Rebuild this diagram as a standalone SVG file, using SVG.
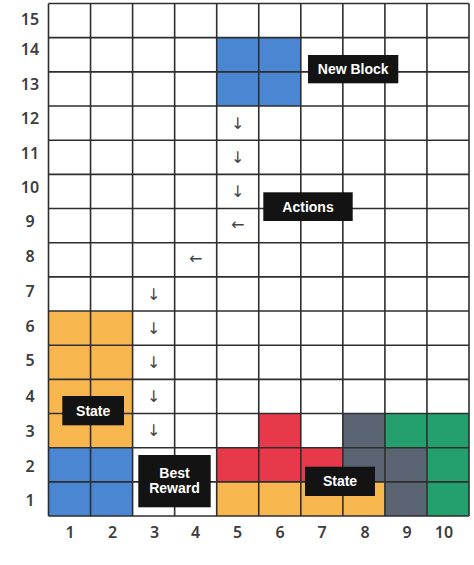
<svg xmlns="http://www.w3.org/2000/svg" width="474" height="565" viewBox="0 0 474 565">
<style>
.blue{fill:#4a86d2}
.orange{fill:#f8b64f}
.red{fill:#e8394a}
.slate{fill:#5a6473}
.green{fill:#23a06e}
.grid line{stroke:#2e2e2e;stroke-width:1.6}
.axis{font-family:"Noto Sans","Liberation Sans",sans-serif;font-size:16px;font-weight:600;fill:#3d3d3d;text-anchor:middle}
.box{fill:#131313}
.lbl{font-family:"Liberation Sans","Noto Sans",sans-serif;font-size:14px;font-weight:bold;fill:#ffffff;text-anchor:middle}
.arr{font-family:"DejaVu Sans","Liberation Sans",sans-serif;font-size:16px;fill:#444;text-anchor:middle}
</style>
<rect x="0" y="0" width="474" height="565" fill="#ffffff"/>
<g id="cells">
<rect id="new-block-cells" class="blue" x="216.7" y="37.67" width="84.1" height="68.34"/>
<rect class="orange" x="48.5" y="311.03" width="84.1" height="136.68"/>
<rect class="blue" x="48.5" y="447.71" width="84.1" height="68.34"/>
<rect class="red" x="258.75" y="413.54" width="42.05" height="34.17"/>
<rect class="red" x="216.7" y="447.71" width="126.15" height="34.17"/>
<rect class="orange" x="216.7" y="481.88" width="168.2" height="34.17"/>
<rect class="slate" x="342.85" y="413.54" width="42.05" height="68.34"/>
<rect class="slate" x="384.9" y="447.71" width="42.05" height="68.34"/>
<rect class="green" x="384.9" y="413.54" width="42.05" height="34.17"/>
<rect class="green" x="426.95" y="413.54" width="42.05" height="102.51"/>
</g>
<g id="grid" class="grid">
<line x1="48.5" y1="3.5" x2="48.5" y2="516.05"/>
<line x1="90.55" y1="3.5" x2="90.55" y2="516.05"/>
<line x1="132.6" y1="3.5" x2="132.6" y2="516.05"/>
<line x1="174.65" y1="3.5" x2="174.65" y2="516.05"/>
<line x1="216.7" y1="3.5" x2="216.7" y2="516.05"/>
<line x1="258.75" y1="3.5" x2="258.75" y2="516.05"/>
<line x1="300.8" y1="3.5" x2="300.8" y2="516.05"/>
<line x1="342.85" y1="3.5" x2="342.85" y2="516.05"/>
<line x1="384.9" y1="3.5" x2="384.9" y2="516.05"/>
<line x1="426.95" y1="3.5" x2="426.95" y2="516.05"/>
<line x1="469" y1="3.5" x2="469" y2="516.05"/>
<line x1="48.5" y1="3.5" x2="469" y2="3.5"/>
<line x1="48.5" y1="37.67" x2="469" y2="37.67"/>
<line x1="48.5" y1="71.84" x2="469" y2="71.84"/>
<line x1="48.5" y1="106.01" x2="469" y2="106.01"/>
<line x1="48.5" y1="140.18" x2="469" y2="140.18"/>
<line x1="48.5" y1="174.35" x2="469" y2="174.35"/>
<line x1="48.5" y1="208.52" x2="469" y2="208.52"/>
<line x1="48.5" y1="242.69" x2="469" y2="242.69"/>
<line x1="48.5" y1="276.86" x2="469" y2="276.86"/>
<line x1="48.5" y1="311.03" x2="469" y2="311.03"/>
<line x1="48.5" y1="345.2" x2="469" y2="345.2"/>
<line x1="48.5" y1="379.37" x2="469" y2="379.37"/>
<line x1="48.5" y1="413.54" x2="469" y2="413.54"/>
<line x1="48.5" y1="447.71" x2="469" y2="447.71"/>
<line x1="48.5" y1="481.88" x2="469" y2="481.88"/>
<line x1="48.5" y1="516.05" x2="469" y2="516.05"/>
</g>
<g id="row-axis" class="axis">
<text x="30" y="24.6">15</text>
<text x="30" y="55">14</text>
<text x="30" y="90">13</text>
<text x="30" y="124.1">12</text>
<text x="30" y="159.3">11</text>
<text x="30" y="192.8">10</text>
<text x="30" y="226.6">9</text>
<text x="30" y="261.6">8</text>
<text x="30" y="296.6">7</text>
<text x="30" y="331.8">6</text>
<text x="30" y="366.3">5</text>
<text x="30" y="401.8">4</text>
<text x="30" y="437.3">3</text>
<text x="30" y="471.8">2</text>
<text x="30" y="505.8">1</text>
</g>
<g id="col-axis" class="axis">
<text x="70" y="538.3">1</text>
<text x="112.5" y="538.3">2</text>
<text x="154.5" y="538.3">3</text>
<text x="195.5" y="538.3">4</text>
<text x="237.7" y="538.3">5</text>
<text x="280" y="538.3">6</text>
<text x="322" y="538.3">7</text>
<text x="365" y="538.3">8</text>
<text x="407" y="538.3">9</text>
<text x="444" y="538.3">10</text>
</g>
<g id="connectors" class="arr">
<text x="237.7" y="128.8">↓</text>
<text x="237.7" y="163">↓</text>
<text x="237.7" y="197.1">↓</text>
<text x="237.7" y="229.6">←</text>
<text x="195.7" y="263.8">←</text>
<text x="153.6" y="299.6">↓</text>
<text x="153.6" y="333.8">↓</text>
<text x="153.6" y="368">↓</text>
<text x="153.6" y="402.2">↓</text>
<text x="153.6" y="436.3">↓</text>
</g>
<g id="label-new-block">
<rect class="box" x="308" y="55" width="90.3" height="28.3"/>
<text class="lbl" x="353.2" y="74.2">New Block</text>
</g>
<g id="label-actions">
<rect class="box" x="263.3" y="192.3" width="89.4" height="28.7"/>
<text class="lbl" x="308" y="211.7">Actions</text>
</g>
<g id="label-state-left">
<rect class="box" x="62.3" y="396" width="61.7" height="29.3"/>
<text class="lbl" x="93.2" y="415.7">State</text>
</g>
<g id="label-best-reward">
<rect class="box" x="138.3" y="455" width="72.4" height="52.3"/>
<text class="lbl" x="174.5" y="477.7">Best</text>
<text class="lbl" x="174.5" y="493.3">Reward</text>
</g>
<g id="label-state-right">
<rect class="box" x="305" y="466.7" width="70" height="29.3"/>
<text class="lbl" x="340" y="486.3">State</text>
</g>
</svg>
